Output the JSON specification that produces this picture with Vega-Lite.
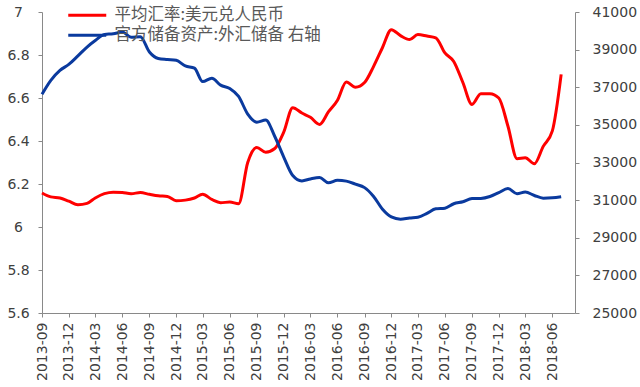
{
  "$schema": "https://vega.github.io/schema/vega-lite/v6.json",
  "width": 533,
  "height": 301,
  "autosize": {"type": "none"},
  "padding": {"left": 42, "top": 12, "right": 65, "bottom": 74},
  "background": "white",
  "config": {
    "view": {"stroke": null},
    "axis": {"grid": false, "domainColor": "#898989", "tickColor": "#898989", "tickSize": 4, "labelFont": "DejaVu Sans", "labelFontSize": 14, "labelColor": "#404040", "title": null}
  },
  "data": {"values": [
    {"date": "2013-09-01", "rate": 6.158, "reserve": 36627},
    {"date": "2013-10-01", "rate": 6.140, "reserve": 37366},
    {"date": "2013-11-01", "rate": 6.135, "reserve": 37895},
    {"date": "2013-12-01", "rate": 6.120, "reserve": 38213},
    {"date": "2014-01-01", "rate": 6.104, "reserve": 38666},
    {"date": "2014-02-01", "rate": 6.110, "reserve": 39137},
    {"date": "2014-03-01", "rate": 6.135, "reserve": 39481},
    {"date": "2014-04-01", "rate": 6.155, "reserve": 39809},
    {"date": "2014-05-01", "rate": 6.162, "reserve": 39839},
    {"date": "2014-06-01", "rate": 6.160, "reserve": 39932},
    {"date": "2014-07-01", "rate": 6.155, "reserve": 39660},
    {"date": "2014-08-01", "rate": 6.160, "reserve": 39688},
    {"date": "2014-09-01", "rate": 6.152, "reserve": 38877},
    {"date": "2014-10-01", "rate": 6.145, "reserve": 38529},
    {"date": "2014-11-01", "rate": 6.142, "reserve": 38474},
    {"date": "2014-12-01", "rate": 6.122, "reserve": 38430},
    {"date": "2015-01-01", "rate": 6.125, "reserve": 38134},
    {"date": "2015-02-01", "rate": 6.135, "reserve": 38015},
    {"date": "2015-03-01", "rate": 6.152, "reserve": 37300},
    {"date": "2015-04-01", "rate": 6.128, "reserve": 37481},
    {"date": "2015-05-01", "rate": 6.113, "reserve": 37111},
    {"date": "2015-06-01", "rate": 6.116, "reserve": 36938},
    {"date": "2015-07-01", "rate": 6.108, "reserve": 36513},
    {"date": "2015-08-01", "rate": 6.300, "reserve": 35574},
    {"date": "2015-09-01", "rate": 6.370, "reserve": 35141},
    {"date": "2015-10-01", "rate": 6.348, "reserve": 35255},
    {"date": "2015-11-01", "rate": 6.365, "reserve": 34383},
    {"date": "2015-12-01", "rate": 6.440, "reserve": 33304},
    {"date": "2016-01-01", "rate": 6.555, "reserve": 32309},
    {"date": "2016-02-01", "rate": 6.530, "reserve": 32023},
    {"date": "2016-03-01", "rate": 6.510, "reserve": 32126},
    {"date": "2016-04-01", "rate": 6.477, "reserve": 32197},
    {"date": "2016-05-01", "rate": 6.535, "reserve": 31917},
    {"date": "2016-06-01", "rate": 6.590, "reserve": 32052},
    {"date": "2016-07-01", "rate": 6.675, "reserve": 32011},
    {"date": "2016-08-01", "rate": 6.650, "reserve": 31851},
    {"date": "2016-09-01", "rate": 6.672, "reserve": 31664},
    {"date": "2016-10-01", "rate": 6.745, "reserve": 31207},
    {"date": "2016-11-01", "rate": 6.835, "reserve": 30516},
    {"date": "2016-12-01", "rate": 6.918, "reserve": 30105},
    {"date": "2017-01-01", "rate": 6.890, "reserve": 29982},
    {"date": "2017-02-01", "rate": 6.872, "reserve": 30051},
    {"date": "2017-03-01", "rate": 6.895, "reserve": 30091},
    {"date": "2017-04-01", "rate": 6.888, "reserve": 30295},
    {"date": "2017-05-01", "rate": 6.880, "reserve": 30536},
    {"date": "2017-06-01", "rate": 6.810, "reserve": 30568},
    {"date": "2017-07-01", "rate": 6.770, "reserve": 30807},
    {"date": "2017-08-01", "rate": 6.672, "reserve": 30915},
    {"date": "2017-09-01", "rate": 6.570, "reserve": 31085},
    {"date": "2017-10-01", "rate": 6.620, "reserve": 31092},
    {"date": "2017-11-01", "rate": 6.620, "reserve": 31193},
    {"date": "2017-12-01", "rate": 6.600, "reserve": 31399},
    {"date": "2018-01-01", "rate": 6.470, "reserve": 31615},
    {"date": "2018-02-01", "rate": 6.318, "reserve": 31345},
    {"date": "2018-03-01", "rate": 6.322, "reserve": 31428},
    {"date": "2018-04-01", "rate": 6.294, "reserve": 31248},
    {"date": "2018-05-01", "rate": 6.375, "reserve": 31106},
    {"date": "2018-06-01", "rate": 6.447, "reserve": 31121},
    {"date": "2018-07-01", "rate": 6.710, "reserve": 31179}
  ]},
  "encoding": {
    "x": {
      "field": "date", "type": "temporal",
      "scale": {"type": "utc", "domain": [{"year": 2013, "month": 9, "date": 1, "utc": true}, {"year": 2018, "month": 8, "date": 17, "utc": true}]},
      "axis": {
        "format": "%Y-%m", "labelAngle": -90, "labelAlign": "right", "labelBaseline": "middle", "labelPadding": 5, "labelOverlap": false, "labelFlush": false,
        "values": [
          {"year": 2013, "month": 9, "date": 1, "utc": true}, {"year": 2013, "month": 12, "date": 1, "utc": true},
          {"year": 2014, "month": 3, "date": 1, "utc": true}, {"year": 2014, "month": 6, "date": 1, "utc": true},
          {"year": 2014, "month": 9, "date": 1, "utc": true}, {"year": 2014, "month": 12, "date": 1, "utc": true},
          {"year": 2015, "month": 3, "date": 1, "utc": true}, {"year": 2015, "month": 6, "date": 1, "utc": true},
          {"year": 2015, "month": 9, "date": 1, "utc": true}, {"year": 2015, "month": 12, "date": 1, "utc": true},
          {"year": 2016, "month": 3, "date": 1, "utc": true}, {"year": 2016, "month": 6, "date": 1, "utc": true},
          {"year": 2016, "month": 9, "date": 1, "utc": true}, {"year": 2016, "month": 12, "date": 1, "utc": true},
          {"year": 2017, "month": 3, "date": 1, "utc": true}, {"year": 2017, "month": 6, "date": 1, "utc": true},
          {"year": 2017, "month": 9, "date": 1, "utc": true}, {"year": 2017, "month": 12, "date": 1, "utc": true},
          {"year": 2018, "month": 3, "date": 1, "utc": true}, {"year": 2018, "month": 6, "date": 1, "utc": true}
        ]
      }
    }
  },
  "layer": [
    {
      "mark": {"type": "line", "interpolate": "monotone", "strokeWidth": 3},
      "encoding": {
        "y": {"field": "rate", "type": "quantitative", "scale": {"domain": [5.6, 7], "zero": false, "nice": false},
          "axis": {"orient": "left", "values": [5.6, 5.8, 6, 6.2, 6.4, 6.6, 6.8, 7], "format": "~g", "labelAlign": "center", "labelPadding": 20, "labelBaseline": "middle"}},
        "color": {"datum": "平均汇率:美元兑人民币", "type": "nominal",
          "scale": {"domain": ["平均汇率:美元兑人民币", "官方储备资产:外汇储备 右轴"], "range": ["#FF0000", "#0A3A9E"]},
          "legend": {"orient": "none", "legendX": 37, "legendY": -5, "direction": "vertical", "title": null, "symbolType": "M-10,0H10", "symbolSize": 14.44, "symbolStrokeWidth": 3, "labelFont": "Noto Sans CJK SC", "labelFontSize": 16.5, "labelColor": "#595959", "labelOffset": 19, "rowPadding": 3, "labelLimit": 400, "padding": 0}}
      }
    },
    {
      "mark": {"type": "line", "interpolate": "monotone", "strokeWidth": 3},
      "encoding": {
        "y": {"field": "reserve", "type": "quantitative", "scale": {"domain": [25000, 41000], "zero": false, "nice": false},
          "axis": {"orient": "right", "values": [25000, 27000, 29000, 31000, 33000, 35000, 37000, 39000, 41000], "format": "d", "labelPadding": 13, "labelBaseline": "middle"}},
        "color": {"datum": "官方储备资产:外汇储备 右轴", "type": "nominal"}
      }
    }
  ],
  "resolve": {"scale": {"y": "independent"}}
}
